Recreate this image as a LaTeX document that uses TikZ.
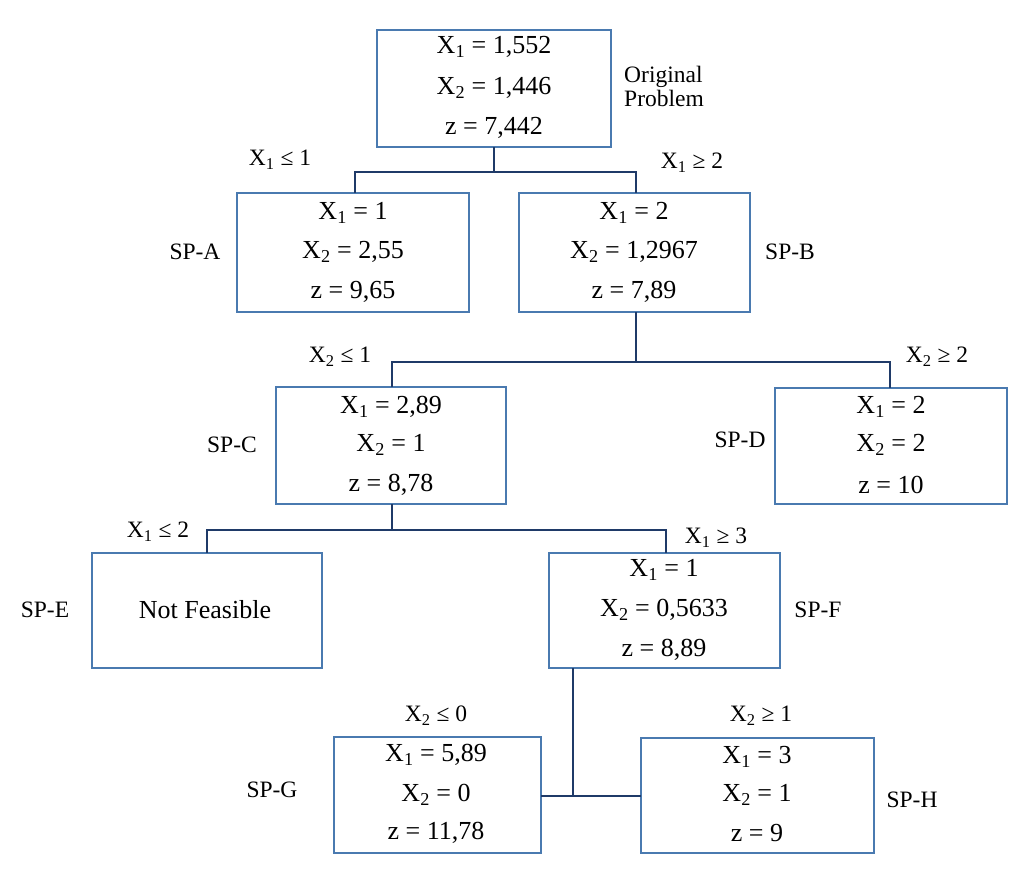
\documentclass[tikz,border=0pt]{standalone}
\usepackage{fontspec}
\setmainfont{Liberation Serif}
\begin{document}
\begin{tikzpicture}[x=1pt,y=-1pt,
  bx/.style={draw=boxc,line width=1.2pt,minimum width=#1},
  txt/.style={font=\fontsize{26}{30}\selectfont,inner sep=0pt},
  lbl/.style={font=\fontsize{23.5}{27}\selectfont,inner sep=0pt},
  con/.style={draw=conc,line width=1.3pt}]
\definecolor{boxc}{HTML}{4A7AB0}
\definecolor{conc}{HTML}{1F3A68}
\useasboundingbox (0,0) rectangle (1024,879);
\newcommand{\Xs}[1]{X\textsubscript{#1}}
% boxes
\draw[bx] (377,30) rectangle (611,147) coordinate (r2); \coordinate (r) at (494,147);
\node[txt] at (494,47) {\Xs1 = 1,552};
\node[txt] at (494,88) {\Xs2 = 1,446};
\node[txt] at (494,128) {z = 7,442};
\node[lbl,align=left,anchor=west] at (624,86) {Original\\[-3pt]Problem};
\draw[bx] (237,193) rectangle (469,312); \coordinate (a) at (355,193);
\node[txt] at (353,213) {\Xs1 = 1};
\node[txt] at (353,252) {\Xs2 = 2,55};
\node[txt] at (353,292) {z = 9,65};
\node[lbl] at (195,252) {SP-A};
\draw[bx] (519,193) rectangle (750,312); \coordinate (b) at (636,193); \coordinate (bb) at (636,312);
\node[txt] at (634,213) {\Xs1 = 2};
\node[txt] at (634,252) {\Xs2 = 1,2967};
\node[txt] at (634,292) {z = 7,89};
\node[lbl] at (790,252) {SP-B};
\draw[bx] (276,387) rectangle (506,504); \coordinate (c) at (392,387); \coordinate (cb) at (392,504);
\node[txt] at (391,407) {\Xs1 = 2,89};
\node[txt] at (391,445) {\Xs2 = 1};
\node[txt] at (391,485) {z = 8,78};
\node[lbl] at (232,445) {SP-C};
\draw[bx] (775,388) rectangle (1007,504); \coordinate (d) at (890,388);
\node[txt] at (891,407) {\Xs1 = 2};
\node[txt] at (891,445) {\Xs2 = 2};
\node[txt] at (891,485) {z = 10};
\node[lbl] at (740,440) {SP-D};
\draw[bx] (92,553) rectangle (322,668); \coordinate (e) at (207,553);
\node[txt] at (205,610) {Not Feasible};
\node[lbl] at (45,610) {SP-E};
\draw[bx] (549,553) rectangle (780,668); \coordinate (f) at (666,553); \coordinate (fb) at (573,668);
\node[txt] at (664,570) {\Xs1 = 1};
\node[txt] at (664,610) {\Xs2 = 0,5633};
\node[txt] at (664,650) {z = 8,89};
\node[lbl] at (818,610) {SP-F};
\draw[bx] (334,737) rectangle (541,853); \coordinate (g) at (541,796);
\node[txt] at (436,755) {\Xs1 = 5,89};
\node[txt] at (436,795) {\Xs2 = 0};
\node[txt] at (436,833) {z = 11,78};
\node[lbl] at (272,790) {SP-G};
\draw[bx] (641,738) rectangle (874,853); \coordinate (h) at (641,796);
\node[txt] at (757,757) {\Xs1 = 3};
\node[txt] at (757,795) {\Xs2 = 1};
\node[txt] at (757,833) {z = 9};
\node[lbl] at (912,800) {SP-H};
% connectors
\draw[con] (r) |- (355,172) -- (a);
\draw[con] (494,172) -| (b);
\draw[con] (bb) |- (392,362) -- (c);
\draw[con] (636,362) -| (d);
\draw[con] (cb) |- (207,530) -- (e);
\draw[con] (392,530) -| (f);
\draw[con] (fb) -- (573,796);
\draw[con] (g) -- (h);
% branch labels
\node[lbl] at (280,160) {\Xs1 ≤ 1};
\node[lbl] at (692,163) {\Xs1 ≥ 2};
\node[lbl] at (340,357) {\Xs2 ≤ 1};
\node[lbl] at (937,357) {\Xs2 ≥ 2};
\node[lbl] at (158,532) {\Xs1 ≤ 2};
\node[lbl] at (716,538) {\Xs1 ≥ 3};
\node[lbl] at (436,716) {\Xs2 ≤ 0};
\node[lbl] at (761,716) {\Xs2 ≥ 1};
\end{tikzpicture}
\end{document}
